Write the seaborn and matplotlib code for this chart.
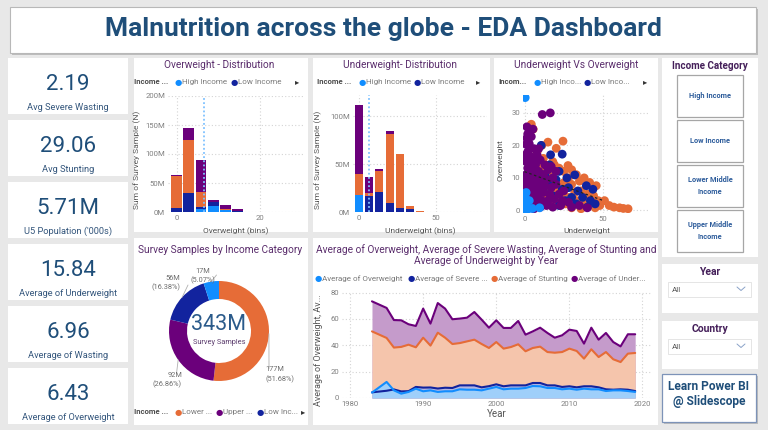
import numpy as np
import pandas as pd
import matplotlib
matplotlib.use("Agg")
import matplotlib.pyplot as plt
import seaborn as sns
from matplotlib.patches import Rectangle
from matplotlib.lines import Line2D

sns.set_theme(style="white")
plt.rcParams['font.family'] = ['Roboto', 'DejaVu Sans']

# ---------------- data ----------------
kpi_values = ["2.19", "29.06", "5.71M", "15.84", "6.96", "6.43"]
kpi_labels = ["Avg Severe Wasting", "Avg Stunting", "U5 Population ('000s)",
              "Average of Underweight", "Average of Wasting", "Average of Overweight"]

income_cats = ["High Income", "Low Income", "Lower Middle Income", "Upper Middle Income"]

# Overweight histogram (bin centres, sums in millions)
ow_bins = [0, 2.9, 5.8, 8.8, 11.7, 14.6]
ow_high = [0, 0, 5, 10, 3, 0]
ow_low = [7, 33, 4, 7, 0.5, 1]
ow_lmid = [55, 92, 26, 0, 2.5, 0]
ow_umid = [2, 20, 54, 4, 6, 5]
ow_ref = 6.43

# Underweight histogram
uw_bins = [0, 6.6, 13.2, 19.9, 26.5, 33.2, 39.8, 46.4, 53.0, 59.6]
uw_high = [17.4, 0, 0, 0, 0, 0, 0, 0, 0, 0]
uw_low = [0, 17, 21, 9, 4.5, 3.5, 0, 0, 0, 0]
uw_lmid = [22.6, 3, 22, 72, 55.5, 2.5, 0.7, 0.5, 0.5, 0.3]
uw_umid = [72, 16.6, 2, 3, 0, 0, 0, 0, 0, 0]
uw_ref = 6.5

# Scatter (underweight, overweight)
sc_lmid = [(4.3,26.5),(5.5,25),(14.9,21),(24.5,21.3),(20.2,19.1),(8,18),(12,16),(18,15),(27.7,13.8),
           (19,14),(22,13),(25,12),(30,12.5),(33,11),(15,11),(10,13),(6,14),(28,10),(35,9),(38,10),
           (41.5,8.6),(45.7,7.6),(30,8),(25,8.5),(20,9),(16,8),(36,6),(40,5),(44,4.5),(47,3),(51,3),
           (54,1.5),(57,1),(60.6,0.8),(63,0.6),(66,0.5),(48,1.5),(42,2),(38,2.5),(33,3),(28,4),(24,5),
           (20,6),(14,6),(32,5.5),(26,2),(22,2.5),(18,3),(12,2),(8,5),(2,1.5),(30,0.8),(45,0.8),
           (36,0.5),(40,3.5),(11,20),(13,4)]
sc_low = [(10.6,20),(16.6,17.1),(24,17.3),(16,14),(32,10.9),(39.4,7.6),(43.6,6.5),(22,12),(27,10),
          (13,11),(20,9.5),(28,7),(34,6),(8,12),(15,8),(24,6.5),(30,4),(37,4),(42,3),(45,2),(18,4.5),
          (12,6),(26,3),(33,2),(22,1.5),(40,1),(14,2.5),(9,9),(6,7)]
sc_umid = [(11.3,29.5),(16.4,30),(1.5,25.7),(5.3,25),(4.3,22.7),(1.5,22.2),(1,20.3),(3,20.5),(6,19),
           (2,18),(0.5,17),(4,16.5),(8,17),(1,15),(3,14.5),(5,15),(7,14),(10,15.5),(13,14),(2,13),
           (4,12.5),(6,12),(9,12),(12,11),(15,12.5),(1,11),(3,10.5),(5,10),(8,10),(11,9),(14,9.5),
           (18,10),(0.5,9),(2,8.5),(4,8),(7,8),(10,7),(13,7.5),(17,7),(20,8),(1,7),(3,6),(6,6),(9,5),
           (12,5.5),(16,5),(22,5),(25,6),(2,4.5),(5,4),(8,3.5),(11,3),(15,3),(19,3.5),(24,3),(28,2.5),
           (1,2.5),(4,2),(7,1.5),(10,1),(14,1.5),(18,1),(23,1.5),(30,1),(35,1.5),(40,0.8),(3,0.8),
           (6,0.5),(20,12),(17,13.5),(9,19),(2,23.5)]
sc_high = [(0.4,34.7),(0,3),(0.5,4),(1,2),(1.5,1),(2.5,0.5),(9.6,0.8),(0.3,1.5),(3,3),(1,5.5),
           (5,0.6),(0.5,0.3)]

# Donut
donut_labels = ["Lower Middle Income", "Upper Middle Income", "Low Income", "High Income"]
donut_values = [177, 92, 56, 17]
donut_pct = ["51.68%", "26.86%", "16.38%", "5.07%"]
donut_total = "343M"

# Area chart by year
years = [1983, 1985, 1986, 1987, 1988, 1989, 1990, 1991, 1992, 1993, 1994, 1995, 1996, 1997,
         1998, 1999, 2000, 2001, 2002, 2003, 2004, 2005, 2006, 2007, 2008, 2009, 2010, 2011,
         2012, 2013, 2014, 2015, 2016, 2017, 2018, 2019]
avg_underweight = [73.4, 68.4, 59.2, 59.0, 56.0, 54.7, 67.9, 56.5, 72.1, 67.9, 59.8, 60.3, 61.0, 65.3,
                   59.5, 53.4, 59.0, 53.2, 53.2, 58.5, 48.1, 50.6, 53.4, 49.4, 45.8, 47.6, 51.9, 50.9,
                   41.3, 53.4, 44.3, 49.4, 42.5, 39.2, 48.4, 48.4]
avg_stunting = [50.6, 45.6, 38.3, 38.8, 40.5, 38.5, 45.8, 39.8, 49.6, 45.8, 41.0, 41.7, 43.0, 44.3,
                41.0, 38.0, 42.5, 37.5, 38.7, 40.8, 35.5, 38.0, 39.0, 34.9, 34.4, 34.9, 37.5, 35.7,
                29.9, 37.0, 31.1, 34.9, 29.4, 27.3, 33.7, 34.2]
avg_severe = [4.3, 5.5, 6.5, 5.0, 5.2, 8.4, 7.9, 8.0, 7.2, 7.8, 7.6, 9.6, 9.6, 9.6,
              8.1, 9.0, 10.4, 8.9, 9.6, 9.6, 9.6, 11.4, 11.4, 9.6, 9.6, 8.4, 8.9, 8.1,
              8.9, 8.9, 8.1, 6.6, 6.3, 6.6, 6.3, 5.3]
avg_overweight = [4.1, 12.2, 5.8, 3.3, 4.6, 7.1, 5.1, 5.8, 4.6, 5.1, 5.1, 6.6, 6.3, 6.3,
                  5.8, 7.1, 8.4, 6.6, 7.1, 7.1, 7.6, 9.1, 8.9, 7.6, 7.6, 6.6, 7.1, 6.3,
                  7.1, 6.6, 6.6, 5.3, 5.8, 5.8, 5.3, 4.6]

# ---------------- style ----------------
HIGH, LOW, LMID, UMID = '#118DFF', '#12239E', '#E66C37', '#6B007B'
PAL = {"High Income": HIGH, "Low Income": LOW, "Lower Middle Income": LMID, "Upper Middle Income": UMID}
TPURPLE = '#5A2D6C'
DBLUE = '#1F4E79'
GRID = '#d4d4d4'
TICK = '#808080'

W, H = 768, 430
fig = plt.figure(figsize=(W / 100, H / 100), dpi=100, facecolor='#e8e8e8')


def fx(x):
    return x / W


def fy(y):
    return 1 - y / H


def panel(x0, y0, x1, y1, ec='none', lw=0.0, shadow=False):
    if shadow:
        fig.patches.append(Rectangle((fx(x0 + 2), fy(y1 + 2)), (x1 - x0) / W, (y1 - y0) / H,
                                     transform=fig.transFigure, fc='#bdbdbd', ec='none', zorder=-3))
    fig.patches.append(Rectangle((fx(x0), fy(y1)), (x1 - x0) / W, (y1 - y0) / H,
                                 transform=fig.transFigure, fc='white', ec=ec, lw=lw, zorder=-2))


def T(x, y, s, **kw):
    kw.setdefault('ha', 'center')
    kw.setdefault('va', 'center')
    fig.text(fx(x), fy(y), s, **kw)


def add_ax(x0, y0, x1, y1):
    ax = fig.add_axes([fx(x0), fy(y1), (x1 - x0) / W, (y1 - y0) / H])
    ax.set_facecolor('none')
    return ax


def style_ax(ax):
    for s in ax.spines.values():
        s.set_visible(False)
    ax.grid(True, color=GRID, ls=(0, (1, 2)), lw=0.8)
    ax.set_axisbelow(True)
    ax.tick_params(length=0, labelsize=5.6, colors=TICK, pad=2)


def legend_row(y, items, x_title, title):
    T(x_title, y, title, ha='left', fontsize=5.6, color='#4d4d4d', fontweight='bold')
    for xd, col, lab in items:
        T(xd, y, "●", ha='center', fontsize=6, color=col, family=['DejaVu Sans'])
        T(xd + 4, y, lab, ha='left', fontsize=5.8, color='#7a7a7a')


# ---------------- title ----------------
panel(10, 7, 756, 53, ec='#b8b8b8', lw=0.8, shadow=True)
T(383, 29, "Malnutrition across the globe - EDA Dashboard", fontsize=19, fontweight='bold', color=DBLUE)

# ---------------- KPI cards ----------------
tops = [58, 120, 182, 244, 306, 368]
for t, v, lab in zip(tops, kpi_values, kpi_labels):
    panel(8, t, 128, t + 56)
    T(68, t + 26, v, fontsize=16, color=DBLUE)
    T(68, t + 49, lab, fontsize=6.7, color='#34567c')

# ---------------- Overweight distribution ----------------
panel(134, 58, 308, 232)
T(219, 65, "Overweight - Distribution", fontsize=7.3, color=TPURPLE)
legend_row(82, [(178, HIGH, "High Income"), (234, LOW, "Low Income")], 134, "Income ...")
T(297, 82, "▸", fontsize=6, color='#333333', family=['DejaVu Sans'])
ax1 = add_ax(168, 96, 303, 212)
bottom = np.zeros(len(ow_bins))
for vals, col in zip([ow_high, ow_low, ow_lmid, ow_umid], [HIGH, LOW, LMID, UMID]):
    ax1.bar(ow_bins, vals, bottom=bottom, width=2.6, color=col, linewidth=0)
    bottom += np.array(vals)
ax1.axvline(ow_ref, color='#7fc2ff', ls=(0, (1, 1.3)), lw=1.3)
ax1.set_xlim(-2.1, 30.3)
ax1.set_ylim(0, 200)
ax1.set_yticks([0, 50, 100, 150, 200])
ax1.set_yticklabels(["0M", "50M", "100M", "150M", "200M"])
ax1.set_xticks([0, 20])
style_ax(ax1)
ax1.set_ylabel("Sum of Survey Sample (N)", fontsize=6, color='#555555')
ax1.yaxis.set_label_coords(-0.2, 0.45)
ax1.set_xlabel("Overweight (bins)", fontsize=6, color='#555555')
ax1.xaxis.set_label_coords(0.5, -0.135)

# ---------------- Underweight distribution ----------------
panel(313, 58, 490, 232)
T(400, 65, "Underweight- Distribution", fontsize=7.3, color=TPURPLE)
legend_row(82, [(362, HIGH, "High Income"), (417, LOW, "Low Income")], 317, "Income ...")
T(478, 82, "▸", fontsize=6, color='#333333', family=['DejaVu Sans'])
ax2 = add_ax(353, 95, 487, 212)
bottom = np.zeros(len(uw_bins))
for vals, col in zip([uw_high, uw_low, uw_lmid, uw_umid], [HIGH, LOW, LMID, UMID]):
    ax2.bar(uw_bins, vals, bottom=bottom, width=5.1, color=col, linewidth=0)
    bottom += np.array(vals)
ax2.axvline(uw_ref, color='#7fc2ff', ls=(0, (1, 1.3)), lw=1.3)
ax2.set_xlim(-3.9, 83)
ax2.set_ylim(0, 122)
ax2.set_yticks([0, 50, 100])
ax2.set_yticklabels(["0M", "50M", "100M"])
ax2.set_xticks([0, 50])
style_ax(ax2)
ax2.set_ylabel("Sum of Survey Sample (N)", fontsize=6, color='#555555')
ax2.yaxis.set_label_coords(-0.23, 0.45)
ax2.set_xlabel("Underweight (bins)", fontsize=6, color='#555555')
ax2.xaxis.set_label_coords(0.5, -0.135)

# ---------------- Scatter ----------------
panel(494, 58, 658, 232)
T(576, 65, "Underweight Vs Overweight", fontsize=7.3, color=TPURPLE)
legend_row(82, [(537, HIGH, "High Inco..."), (587, LOW, "Low Inco...")], 498, "Incom...")
T(645, 82, "▸", fontsize=6, color='#333333', family=['DejaVu Sans'])
ax3 = add_ax(523, 95, 650, 213)
frames = []
for pts, cat in [(sc_lmid, "Lower Middle Income"), (sc_low, "Low Income"),
                 (sc_umid, "Upper Middle Income"), (sc_high, "High Income")]:
    d = pd.DataFrame(pts, columns=["Underweight", "Overweight"])
    d["Income"] = cat
    frames.append(d)
sdf = pd.concat(frames, ignore_index=True)
sns.scatterplot(data=sdf, x="Underweight", y="Overweight", hue="Income", palette=PAL,
                s=40, linewidth=0, alpha=1, legend=False, ax=ax3)
coef = np.polyfit(sdf["Underweight"], sdf["Overweight"], 1)
xx = np.array([0, 50])
ax3.plot(xx, np.polyval(coef, xx), color='#222222', ls=(0, (2, 2)), lw=0.9)
ax3.set_xlim(-1, 80)
ax3.set_ylim(-0.8, 35.5)
ax3.set_xticks([0, 50])
ax3.set_yticks([0, 10, 20, 30])
style_ax(ax3)
ax3.set_ylabel("Overweight", fontsize=6, color='#555555')
ax3.yaxis.set_label_coords(-0.15, 0.45)
ax3.set_xlabel("Underweight", fontsize=6, color='#555555')
ax3.xaxis.set_label_coords(0.5, -0.125)

# ---------------- Donut ----------------
panel(134, 238, 308, 425)
T(220, 250, "Survey Samples by Income Category", fontsize=7.3, color=TPURPLE)
axd = add_ax(144, 271, 294, 391)
wedges, _ = axd.pie(donut_values, colors=[LMID, UMID, LOW, HIGH], startangle=90, counterclock=False,
                    wedgeprops=dict(width=0.36, linewidth=0))
axd.set_xlim(-1.5, 1.5)
axd.set_ylim(-1.2, 1.2)
axd.set_aspect('equal')
axd.axis('off')
axd.text(0, 0.14, donut_total, ha='center', va='center', fontsize=15.5, color='#2a5a8a')
axd.text(0, -0.22, "Survey Samples", ha='center', va='center', fontsize=5.3, color='#5c3d6e')
# label anchor (x, y, ha) and elbow point of the leader line
label_pos = [(0.93, -0.87, 'left', (1.0, -0.75)), (-0.74, -0.98, 'right', (-0.85, -0.85)),
             (-0.78, 0.96, 'right', (-0.62, 0.92)), (-0.33, 1.1, 'center', (-0.05, 1.12))]
for w, v, p, (lx, ly, ha, elbow) in zip(wedges, donut_values, donut_pct, label_pos):
    ang = np.deg2rad((w.theta1 + w.theta2) / 2)
    x0, y0 = np.cos(ang) * 1.0, np.sin(ang) * 1.0
    axd.plot([x0, elbow[0]], [y0, elbow[1]], color='#b0b0b0', lw=0.6, clip_on=False)
    axd.text(lx, ly, f"{v}M\n({p})", ha=ha, va='center', fontsize=5.3, color='#6e6e6e',
             linespacing=1.4, clip_on=False)
T(134, 412, "Income ...", ha='left', fontsize=5.6, color='#4d4d4d', fontweight='bold')
for xd, col, lab in [(178, LMID, "Lower ..."), (219, UMID, "Upper ..."), (260, LOW, "Low Inc...")]:
    T(xd, 412, "●", fontsize=6, color=col, family=['DejaVu Sans'])
    T(xd + 4, 412, lab, ha='left', fontsize=5.8, color='#7a7a7a')
T(303, 412, "▸", fontsize=6, color='#333333', family=['DejaVu Sans'])

# ---------------- Area chart ----------------
panel(313, 238, 658, 425)
T(486, 250, "Average of Overweight, Average of Severe Wasting, Average of Stunting and", fontsize=7.3, color=TPURPLE)
T(486, 261, "Average of Underweight by Year", fontsize=7.3, color=TPURPLE)
for xd, col, lab in [(318, HIGH, "Average of Overweight"), (411, LOW, "Average of Severe ..."),
                     (494, LMID, "Average of Stunting"), (574, UMID, "Average of Under...")]:
    T(xd, 279, "●", fontsize=6, color=col, family=['DejaVu Sans'])
    T(xd + 4, 279, lab, ha='left', fontsize=5.8, color='#7a7a7a')
ax4 = add_ax(342, 292, 652, 398)
adf = pd.DataFrame({"Year": years, "Average of Underweight": avg_underweight,
                    "Average of Stunting": avg_stunting, "Average of Severe Wasting": avg_severe,
                    "Average of Overweight": avg_overweight})
fills = [("Average of Underweight", '#C59BCB', UMID), ("Average of Stunting", '#F5C5AC', LMID),
         ("Average of Severe Wasting", '#B3B6E3', LOW), ("Average of Overweight", '#9FCFFA', HIGH)]
for col, fc, lc in fills:
    ax4.fill_between(adf["Year"], 0, adf[col], color=fc, lw=0)
for col, fc, lc in fills:
    sns.lineplot(data=adf, x="Year", y=col, color=lc, lw=1.5, ax=ax4)
ax4.set_xlim(1978.9, 2021.3)
ax4.set_ylim(0, 80.5)
ax4.set_xticks([1980, 1990, 2000, 2010, 2020])
ax4.set_yticks([0, 20, 40, 60, 80])
style_ax(ax4)
ax4.set_ylabel("Average of Overweight, Av...", fontsize=6.5, color='#555555')
ax4.yaxis.set_label_coords(-0.06, 0.45)
ax4.set_xlabel("Year", fontsize=7, color='#555555')
ax4.xaxis.set_label_coords(0.5, -0.1)

# ---------------- Right column ----------------
panel(662, 58, 758, 257)
T(710, 66, "Income Category", fontsize=7.1, color='#45205a', fontweight='bold')
btn_tops = [75, 120, 165, 210]
btn_text = ["High Income", "Low Income", "Lower Middle\nIncome", "Upper Middle\nIncome"]
for bt, tx in zip(btn_tops, btn_text):
    fig.patches.append(Rectangle((fx(677), fy(bt + 42)), 66 / W, 42 / H, transform=fig.transFigure,
                                 fc='white', ec='#a6a6a6', lw=0.9, zorder=-1))
    T(710, bt + 21, tx, fontsize=5.3, color='#2d5c9b', fontweight='bold', linespacing=1.6)

for (pt, pb, lab) in [(264, 313, "Year"), (321, 369, "Country")]:
    panel(662, pt, 758, pb)
    T(710, pt + 8, lab, fontsize=7.5, color='#45205a', fontweight='bold')
    fig.patches.append(Rectangle((fx(668), fy(pt + 33)), 83 / W, 15 / H, transform=fig.transFigure,
                                 fc='white', ec='#e0e0e0', lw=0.6, zorder=-1))
    T(672, pt + 26, "All", ha='left', fontsize=5.8, color='#555555')
    cy = pt + 25
    fig.lines.append(Line2D([fx(737), fx(741), fx(745)], [fy(cy - 2), fy(cy + 1.5), fy(cy - 2)],
                            transform=fig.transFigure, color='#8aa2c8', lw=0.7))

panel(662, 374, 756, 422, ec='#7d93b8', lw=0.9, shadow=True)
T(709, 387, "Learn Power BI", fontsize=8.6, color=DBLUE, fontweight='bold')
T(709, 402, "@ Slidescope", fontsize=8.6, color=DBLUE, fontweight='bold')

fig.savefig("out.png", dpi=100, facecolor=fig.get_facecolor())
